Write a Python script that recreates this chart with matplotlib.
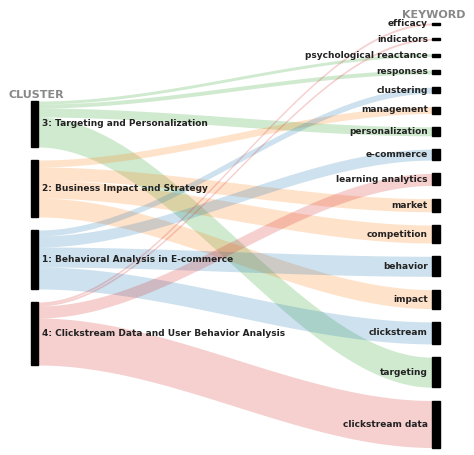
import matplotlib
matplotlib.use("Agg")
import matplotlib.pyplot as plt
import numpy as np

clusters = ["3: Targeting and Personalization", "2: Business Impact and Strategy",
            "1: Behavioral Analysis in E-commerce", "4: Clickstream Data and User Behavior Analysis"]
keywords = ["efficacy", "indicators", "psychological reactance", "responses", "clustering",
            "management", "personalization", "e-commerce", "learning analytics", "market",
            "competition", "behavior", "impact", "clickstream", "targeting", "clickstream data"]
links = [  # (cluster index, keyword, value)
    (0, "psychological reactance", 3), (0, "responses", 4), (0, "personalization", 9), (0, "targeting", 30),
    (1, "management", 7), (1, "market", 13), (1, "competition", 18), (1, "impact", 19),
    (2, "clustering", 6), (2, "e-commerce", 11), (2, "behavior", 20), (2, "clickstream", 22),
    (3, "efficacy", 2), (3, "indicators", 2), (3, "learning analytics", 12), (3, "clickstream data", 47),
]
colors = ["#2ca02c", "#ff7f0e", "#1f77b4", "#d62728"]

fig = plt.figure(figsize=(4.74, 4.55), dpi=100)
ax = fig.add_axes([0, 0, 1, 1])
ax.set_xlim(0, 474); ax.set_ylim(455, 0); ax.axis("off")

scale = 1.0
lx0, lx1, rx0, rx1 = 31, 38, 432, 440
# node sizes
lsize = [sum(v for c, k, v in links if c == i) for i in range(len(clusters))]
rsize = [sum(v for c, k, v in links if k == kw) for kw in keywords]
ly, y = [], 101
for s in lsize:
    ly.append(y); y += s * scale + 13
ry, y = [], 23
for s in rsize:
    ry.append(y); y += s * scale + 13.3

loff = list(ly); roff = list(ry)
lk = sorted(links, key=lambda l: (l[0], keywords.index(l[1])))
pos = {}
for c, k, v in lk:
    pos[(c, k)] = [loff[c]]; loff[c] += v * scale
for c, k, v in sorted(links, key=lambda l: (keywords.index(l[1]), l[0])):
    j = keywords.index(k)
    pos[(c, k)].append(roff[j]); roff[j] += v * scale

t = np.linspace(0, 1, 80)
xs = lx1 + (rx0 - lx1) * t
def curve(a, b):
    s = 3 * t**2 - 2 * t**3
    return a + (b - a) * s
for c, k, v in links:
    y0, y1 = pos[(c, k)]
    h = v * scale
    top = curve(y0, y1); bot = curve(y0 + h, y1 + h)
    ax.fill_between(xs, top, bot, color=colors[c], alpha=0.22, lw=0)

for i, name in enumerate(clusters):
    ax.add_patch(plt.Rectangle((lx0, ly[i]), lx1 - lx0, lsize[i] * scale, color="black"))
    ax.text(lx1 + 4, ly[i] + lsize[i] * scale / 2, name, fontsize=6.5, fontweight="bold",
            va="center", ha="left", color="#222222")
for j, name in enumerate(keywords):
    ax.add_patch(plt.Rectangle((rx0, ry[j]), rx1 - rx0, rsize[j] * scale, color="black"))
    ax.text(rx0 - 4, ry[j] + rsize[j] * scale / 2, name, fontsize=6.5, fontweight="bold",
            va="center", ha="right", color="#222222")

ax.text(9, 95, "CLUSTER", fontsize=8, fontweight="bold", color="#888888", ha="left", va="center")
ax.text(466, 15, "KEYWORD", fontsize=8, fontweight="bold", color="#888888", ha="right", va="center")
fig.savefig("out.png", dpi=100)
